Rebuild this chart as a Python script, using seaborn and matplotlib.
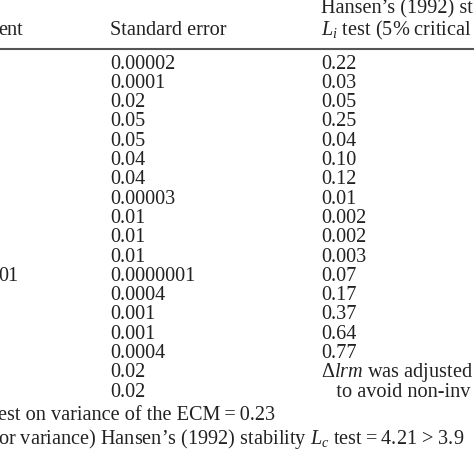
import matplotlib
matplotlib.use("Agg")
import matplotlib.pyplot as plt
import seaborn as sns

sns.set_theme(style="white")
plt.rcParams['font.family'] = ['Liberation Serif', 'DejaVu Serif']
plt.rcParams['mathtext.fontset'] = 'custom'
plt.rcParams['mathtext.it'] = 'Liberation Serif:italic'
plt.rcParams['mathtext.rm'] = 'Liberation Serif'

std_errors = ["0.00002", "0.0001", "0.02", "0.05", "0.05", "0.04", "0.04", "0.00003",
              "0.01", "0.01", "0.01", "0.0000001", "0.0004", "0.001", "0.001", "0.0004",
              "0.02", "0.02"]
hansen_li = ["0.22", "0.03", "0.05", "0.25", "0.04", "0.10", "0.12", "0.01", "0.002",
             "0.002", "0.003", "0.07", "0.17", "0.37", "0.64", "0.77",
             r"$\Delta lrm$ was adjusted", "   to avoid non-inv"]
first_col = {11: "01"}
headers = ["ent", "Standard error", r"$L_i$ test (5% critical"]
header_top = "Hansen\u2019s (1992) st"
footer = ["est on variance of the ECM\u2009=\u20090.23",
          "or variance) Hansen\u2019s (1992) stability $L_c$ test\u2009=\u20094.21 > 3.9"]

fig = plt.figure(figsize=(4.74, 4.74), dpi=100)
ax = fig.add_axes([0, 0, 1, 1])
ax.set_xlim(0, 474)
ax.set_ylim(474, 0)
ax.axis("off")
fs = 14.6
col_x = [-2, 110, 321]
ax.text(col_x[2], 9, header_top, fontsize=fs, va="center", color="#222")
for x, h in zip(col_x, headers):
    ax.text(x, 30, h, fontsize=fs, va="center", color="#222")
ax.axhline(49, color="#555", lw=1.5)
for i, (s, h) in enumerate(zip(std_errors, hansen_li)):
    y = 64 + i * 19.3
    ax.text(col_x[1], y, s, fontsize=fs, va="center", color="#222")
    ax.text(col_x[2], y, h, fontsize=fs, va="center", color="#222")
    if i in first_col:
        ax.text(col_x[0], y, first_col[i], fontsize=fs, va="center", color="#222")
for j, f in enumerate(footer):
    ax.text(-2, 416 + j * 23, f, fontsize=fs, va="center", color="#222")
fig.savefig("out.png", dpi=100)
